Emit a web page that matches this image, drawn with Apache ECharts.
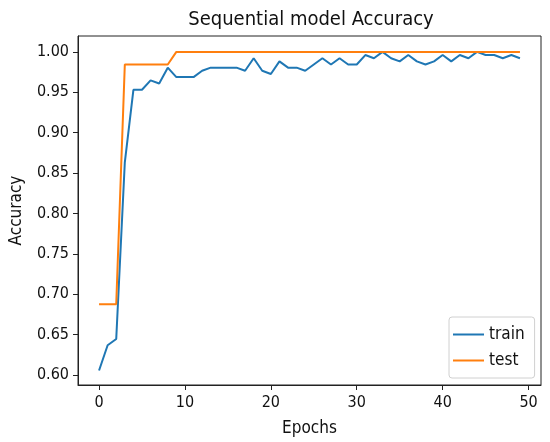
<!DOCTYPE html>
<html>
<head>
<meta charset="utf-8">
<script src="https://cdn.jsdelivr.net/npm/echarts@6/dist/echarts.min.js"></script>
<style>html,body{margin:0;padding:0;background:#fff}#c{width:550px;height:442px}</style>
</head>
<body>
<div id="c"></div>
<script>
const epochs = Array.from({length: 50}, (_, i) => i);
const trainAcc = [0.6055, 0.6367, 0.6445, 0.8633, 0.9531, 0.9531, 0.9648, 0.9609, 0.9805, 0.9688,
  0.9688, 0.9688, 0.9766, 0.9805, 0.9805, 0.9805, 0.9805, 0.9766, 0.9922, 0.9766,
  0.9727, 0.9883, 0.9805, 0.9805, 0.9766, 0.9844, 0.9922, 0.9844, 0.9922, 0.9844,
  0.9844, 0.9961, 0.9922, 1.0, 0.9922, 0.9883, 0.9961, 0.9883, 0.9844, 0.9883,
  0.9961, 0.9883, 0.9961, 0.9922, 1.0, 0.9961, 0.9961, 0.9922, 0.9961, 0.9922];
const testAcc = [0.6875, 0.6875, 0.6875, 0.9844, 0.9844, 0.9844, 0.9844, 0.9844, 0.9844, 1.0,
  1.0, 1.0, 1.0, 1.0, 1.0, 1.0, 1.0, 1.0, 1.0, 1.0,
  1.0, 1.0, 1.0, 1.0, 1.0, 1.0, 1.0, 1.0, 1.0, 1.0,
  1.0, 1.0, 1.0, 1.0, 1.0, 1.0, 1.0, 1.0, 1.0, 1.0,
  1.0, 1.0, 1.0, 1.0, 1.0, 1.0, 1.0, 1.0, 1.0, 1.0];
const xTicks = [0, 10, 20, 30, 40, 50];
const yTicks = [0.60, 0.65, 0.70, 0.75, 0.80, 0.85, 0.90, 0.95, 1.00];

const FONT = '"DejaVu Sans Condensed", "DejaVu Sans", sans-serif';
const chart = echarts.init(document.getElementById('c'), null, {renderer: 'canvas'});
chart.setOption({
  animation: false,
  backgroundColor: '#fff',
  title: {
    text: 'Sequential model Accuracy',
    left: 306, top: 5, textAlign: 'center',
    textStyle: {fontFamily: FONT, fontSize: 20, fontWeight: 'normal', color: '#111'}
  },
  legend: {
    left: 449, top: 317, orient: 'vertical',
    data: ['train', 'test'],
    icon: 'rect', itemWidth: 31, itemHeight: 2, itemGap: 9,
    padding: [9, 10, 9, 4],
    borderColor: '#d0d0d0', borderWidth: 1, borderRadius: 3,
    backgroundColor: 'rgba(255,255,255,0.8)',
    textStyle: {fontFamily: FONT, fontSize: 17, color: '#111'}
  },
  grid: {
    left: 71, top: 36, right: 9, bottom: 56,
    show: true, borderColor: '#222', borderWidth: 1
  },
  xAxis: {
    type: 'value', min: -2.45, max: 51.45,
    name: 'Epochs', nameLocation: 'middle', nameGap: 35,
    nameTextStyle: {fontFamily: FONT, fontSize: 17, color: '#111'},
    splitLine: {show: false},
    axisLine: {onZero: false, lineStyle: {color: '#222', width: 1}},
    axisTick: {show: true, inside: false, length: 5, lineStyle: {color: '#222'}, customValues: xTicks},
    axisLabel: {customValues: xTicks, fontFamily: FONT, fontSize: 16, color: '#111', margin: 10}
  },
  yAxis: {
    type: 'value', min: 0.5875, max: 1.0197,
    name: 'Accuracy', nameLocation: 'middle', nameGap: 53,
    nameTextStyle: {fontFamily: FONT, fontSize: 17, color: '#111'},
    splitLine: {show: false},
    axisLine: {show: true, onZero: false, lineStyle: {color: '#222', width: 1}},
    axisTick: {show: true, inside: false, length: 5, lineStyle: {color: '#222'}, customValues: yTicks},
    axisLabel: {customValues: yTicks, formatter: v => v.toFixed(2), fontFamily: FONT, fontSize: 16, color: '#111', margin: 9}
  },
  series: [
    {
      name: 'train', type: 'line', showSymbol: false, symbol: 'none',
      data: epochs.map((e, i) => [e, trainAcc[i]]),
      lineStyle: {color: '#1f77b4', width: 2}, itemStyle: {color: '#1f77b4'}
    },
    {
      name: 'test', type: 'line', showSymbol: false, symbol: 'none',
      data: epochs.map((e, i) => [e, testAcc[i]]),
      lineStyle: {color: '#ff7f0e', width: 2}, itemStyle: {color: '#ff7f0e'}
    }
  ]
});
</script>
</body>
</html>
